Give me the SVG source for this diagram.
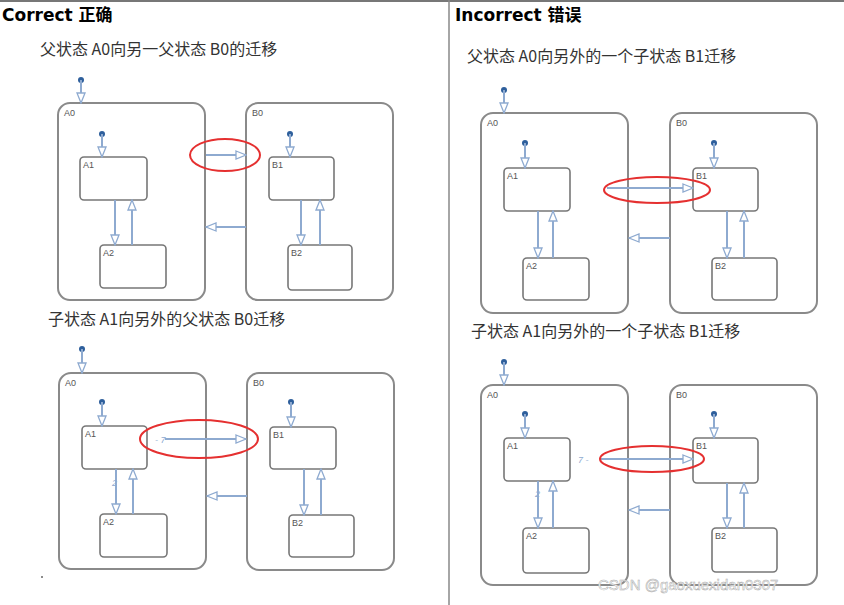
<svg xmlns="http://www.w3.org/2000/svg" width="844" height="605" viewBox="0 0 844 605">
<style>
.o{fill:#fff;stroke:#8a8a8a;stroke-width:2}
.i{fill:#fff;stroke:#777;stroke-width:1.6}
.t{fill:none;stroke:#8eaad0;stroke-width:2}
.lb{font-family:"Liberation Sans",sans-serif;font-size:9px;fill:#555}
.h{font-family:"DejaVu Sans","Noto Sans CJK SC",sans-serif;font-size:17px;font-weight:bold;fill:#000}
.s{font-family:"Noto Sans CJK SC",sans-serif;font-size:16px;fill:#333}
.el{fill:none;stroke:#e53030;stroke-width:2}
.d{fill:#2e5f9c}
</style>
<defs>
<marker id="a" markerWidth="12" markerHeight="10" refX="11" refY="5" orient="auto" markerUnits="userSpaceOnUse">
<path d="M1,1 L11,5 L1,9 Z" fill="#fff" stroke="#8eaad0" stroke-width="1.3"/>
</marker>
</defs>
<rect width="844" height="605" fill="#fff"/>
<line x1="0" y1="1" x2="844" y2="1" stroke="#777" stroke-width="2"/>
<line x1="449" y1="0" x2="449" y2="605" stroke="#888" stroke-width="1.5"/>
<text class="h" x="2" y="21">Correct 正确</text>
<text class="h" x="455" y="21">Incorrect 错误</text>
<text class="s" x="40" y="55">父状态 A0向另一父状态 B0的迁移</text>
<text class="s" x="48" y="325">子状态 A1向另外的父状态 B0迁移</text>
<text class="s" x="467" y="62">父状态 A0向另外的一个子状态 B1迁移</text>
<text class="s" x="471" y="337">子状态 A1向另外的一个子状态 B1迁移</text>

<g id="tl">
<rect class="o" x="58" y="103" width="147" height="197" rx="12"/><text class="lb" x="64" y="116">A0</text>
<rect class="o" x="246" y="103" width="147" height="197" rx="12"/><text class="lb" x="252" y="116">B0</text>
<rect class="i" x="80" y="157" width="67" height="43" rx="4"/><text class="lb" x="83" y="168">A1</text>
<rect class="i" x="100" y="245" width="66" height="43" rx="4"/><text class="lb" x="103" y="256">A2</text>
<rect class="i" x="269" y="157" width="65" height="43" rx="4"/><text class="lb" x="272" y="168">B1</text>
<rect class="i" x="288" y="245" width="64" height="45" rx="4"/><text class="lb" x="291" y="256">B2</text>
<circle class="d" cx="81" cy="80" r="3"/><circle class="d" cx="102" cy="134" r="3"/><circle class="d" cx="290" cy="134" r="3"/>
</g>
<g id="bl">
<rect class="o" x="59" y="373" width="147" height="196" rx="12"/><text class="lb" x="65" y="386">A0</text>
<rect class="o" x="247" y="373" width="147" height="197" rx="12"/><text class="lb" x="253" y="386">B0</text>
<rect class="i" x="82" y="426" width="65" height="43" rx="4"/><text class="lb" x="85" y="437">A1</text>
<rect class="i" x="100" y="514" width="67" height="43" rx="4"/><text class="lb" x="103" y="525">A2</text>
<rect class="i" x="270" y="427" width="66" height="42" rx="4"/><text class="lb" x="273" y="438">B1</text>
<rect class="i" x="289" y="515" width="65" height="42" rx="4"/><text class="lb" x="292" y="526">B2</text>
<circle class="d" cx="82" cy="349" r="3"/><circle class="d" cx="102" cy="402" r="3"/><circle class="d" cx="291" cy="402" r="3"/>
<circle cx="42" cy="577" r="1" fill="#666"/>
</g>
<g id="tr">
<rect class="o" x="481" y="113" width="147" height="200" rx="12"/><text class="lb" x="487" y="126">A0</text>
<rect class="o" x="670" y="113" width="147" height="200" rx="12"/><text class="lb" x="676" y="126">B0</text>
<rect class="i" x="504" y="168" width="66" height="43" rx="4"/><text class="lb" x="507" y="179">A1</text>
<rect class="i" x="523" y="258" width="66" height="42" rx="4"/><text class="lb" x="526" y="269">A2</text>
<rect class="i" x="693" y="168" width="65" height="43" rx="4"/><text class="lb" x="696" y="179">B1</text>
<rect class="i" x="712" y="258" width="65" height="42" rx="4"/><text class="lb" x="715" y="269">B2</text>
<circle class="d" cx="504" cy="90" r="3"/><circle class="d" cx="525" cy="143" r="3"/><circle class="d" cx="714" cy="143" r="3"/>
</g>
<g id="br">
<rect class="o" x="481" y="385" width="147" height="200" rx="12"/><text class="lb" x="487" y="398">A0</text>
<rect class="o" x="670" y="385" width="147" height="200" rx="12"/><text class="lb" x="676" y="398">B0</text>
<rect class="i" x="504" y="438" width="66" height="43" rx="4"/><text class="lb" x="507" y="449">A1</text>
<rect class="i" x="523" y="528" width="66" height="45" rx="4"/><text class="lb" x="526" y="539">A2</text>
<rect class="i" x="693" y="438" width="65" height="45" rx="4"/><text class="lb" x="696" y="449">B1</text>
<rect class="i" x="712" y="528" width="65" height="44" rx="4"/><text class="lb" x="715" y="539">B2</text>
<circle class="d" cx="504" cy="362" r="3"/><circle class="d" cx="525" cy="414" r="3"/><circle class="d" cx="714" cy="414" r="3"/>
</g>
<g id="connectors" marker-end="url(#a)">
<path class="t" d="M81,80V103"/><path class="t" d="M102,134V157"/><path class="t" d="M290,134V157"/>
<path class="t" d="M206,155H246"/><path class="t" d="M246,227H206"/>
<path class="t" d="M115,200V245"/><path class="t" d="M132,245V200"/>
<path class="t" d="M301,200V245"/><path class="t" d="M320,245V200"/>

<path class="t" d="M82,349V373"/><path class="t" d="M102,402V426"/><path class="t" d="M291,402V427"/>
<path class="t" d="M165,439H246"/><path class="t" d="M247,496H207"/>
<path class="t" d="M116,469V514"/><path class="t" d="M133,514V469"/>
<path class="t" d="M304,469V515"/><path class="t" d="M321,515V469"/>

<path class="t" d="M504,90V113"/><path class="t" d="M525,143V168"/><path class="t" d="M714,143V168"/>
<path class="t" d="M607,188H693"/><path class="t" d="M670,238H629"/>
<path class="t" d="M538,211V258"/><path class="t" d="M553,258V211"/>
<path class="t" d="M727,211V258"/><path class="t" d="M744,258V211"/>

<path class="t" d="M504,362V385"/><path class="t" d="M525,414V438"/><path class="t" d="M714,414V438"/>
<path class="t" d="M600,459H693"/><path class="t" d="M670,510H629"/>
<path class="t" d="M538,481V528"/><path class="t" d="M553,528V481"/>
<path class="t" d="M727,483V528"/><path class="t" d="M744,528V483"/>
</g>
<g id="labels" font-family="Liberation Sans,sans-serif" font-size="9" fill="#8eaad0" font-style="italic">
<text x="155" y="443">- 7</text><text x="112" y="486">2</text>
<text x="578" y="463">7 -</text><text x="535" y="497">2</text>
</g>
<g id="marks">
<ellipse class="el" cx="225" cy="155" rx="35" ry="16"/>
<ellipse class="el" cx="199" cy="439" rx="59" ry="19"/>
<ellipse class="el" cx="657" cy="190" rx="53" ry="13"/>
<ellipse class="el" cx="652" cy="459" rx="52" ry="13"/>
</g>
<text x="598" y="590" font-family="Liberation Sans,sans-serif" font-size="15" fill="#fff" stroke="#aaa" stroke-width="0.5">CSDN @gaoxuexidan0307</text>
</svg>
